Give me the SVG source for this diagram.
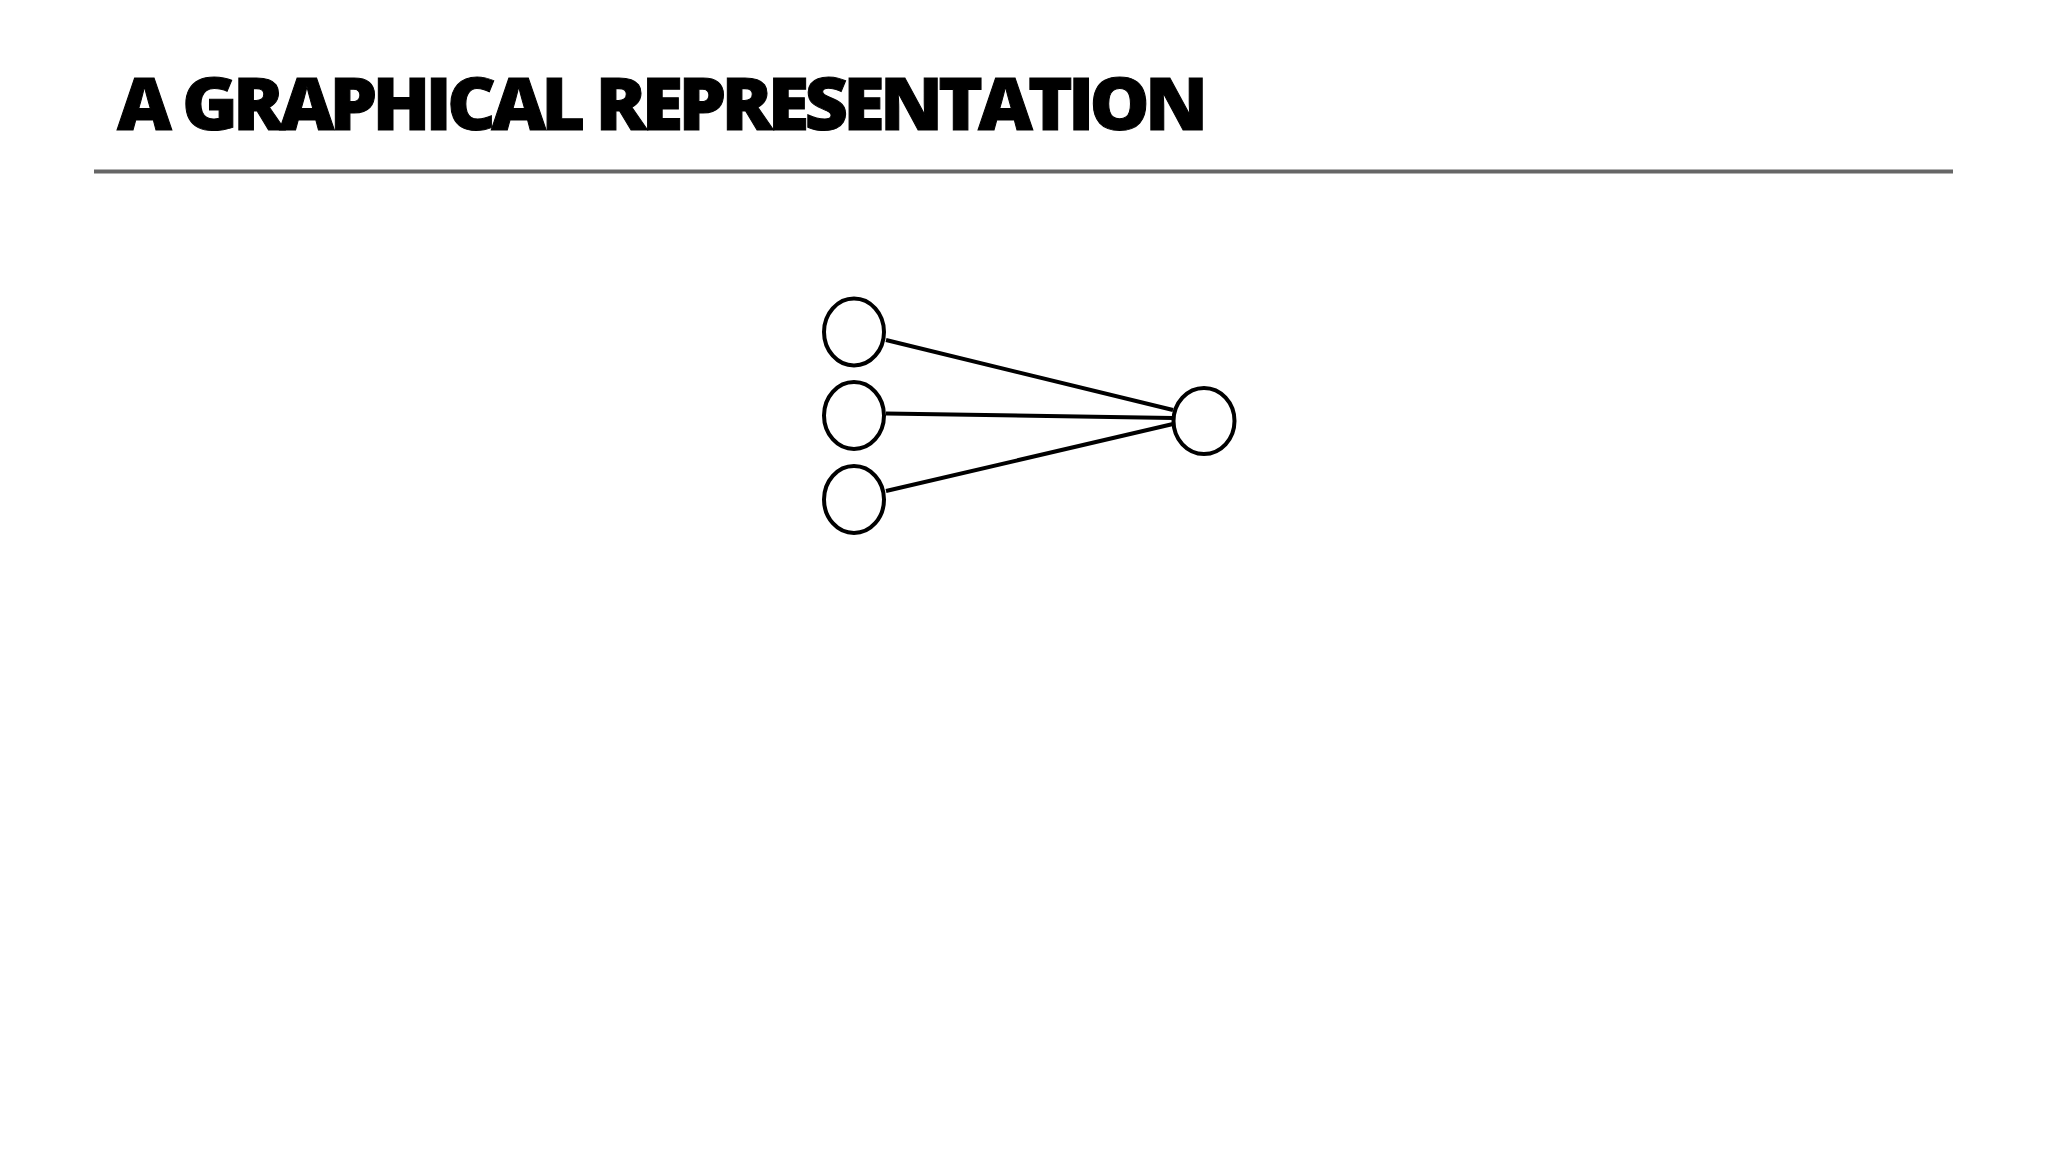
<svg xmlns="http://www.w3.org/2000/svg" width="2048" height="1152" viewBox="0 0 2048 1152">
<style>
.title{font-family:"Open Sans","Liberation Sans",sans-serif;font-weight:800;font-size:72px;fill:#000;stroke:#000;stroke-width:1;stroke-linejoin:miter}
.node{fill:#fff;stroke:#000;stroke-width:4}
.edge{stroke:#000;stroke-width:4;fill:none}
</style>
<rect width="2048" height="1152" fill="#fff"/>
<text class="title" transform="translate(117 0) scale(1.05 1)" x="0" y="130" textLength="1039" lengthAdjust="spacing">A GRAPHICAL REPRESENTATION</text>
<line x1="94" y1="171.5" x2="1953" y2="171.5" stroke="#666" stroke-width="4"/>
<g id="connectors">
<line class="edge" x1="886" y1="340" x2="1173" y2="410"/>
<line class="edge" x1="886" y1="413.5" x2="1173" y2="418"/>
<line class="edge" x1="886" y1="491" x2="1173" y2="424"/>
</g>
<g id="in1"><ellipse class="node" cx="854" cy="332" rx="30" ry="33.5"/></g>
<g id="in2"><ellipse class="node" cx="854" cy="415.5" rx="30" ry="33.5"/></g>
<g id="in3"><ellipse class="node" cx="854" cy="499.5" rx="30" ry="33.5"/></g>
<g id="out"><ellipse class="node" cx="1204" cy="421" rx="30.5" ry="33"/></g>
</svg>
